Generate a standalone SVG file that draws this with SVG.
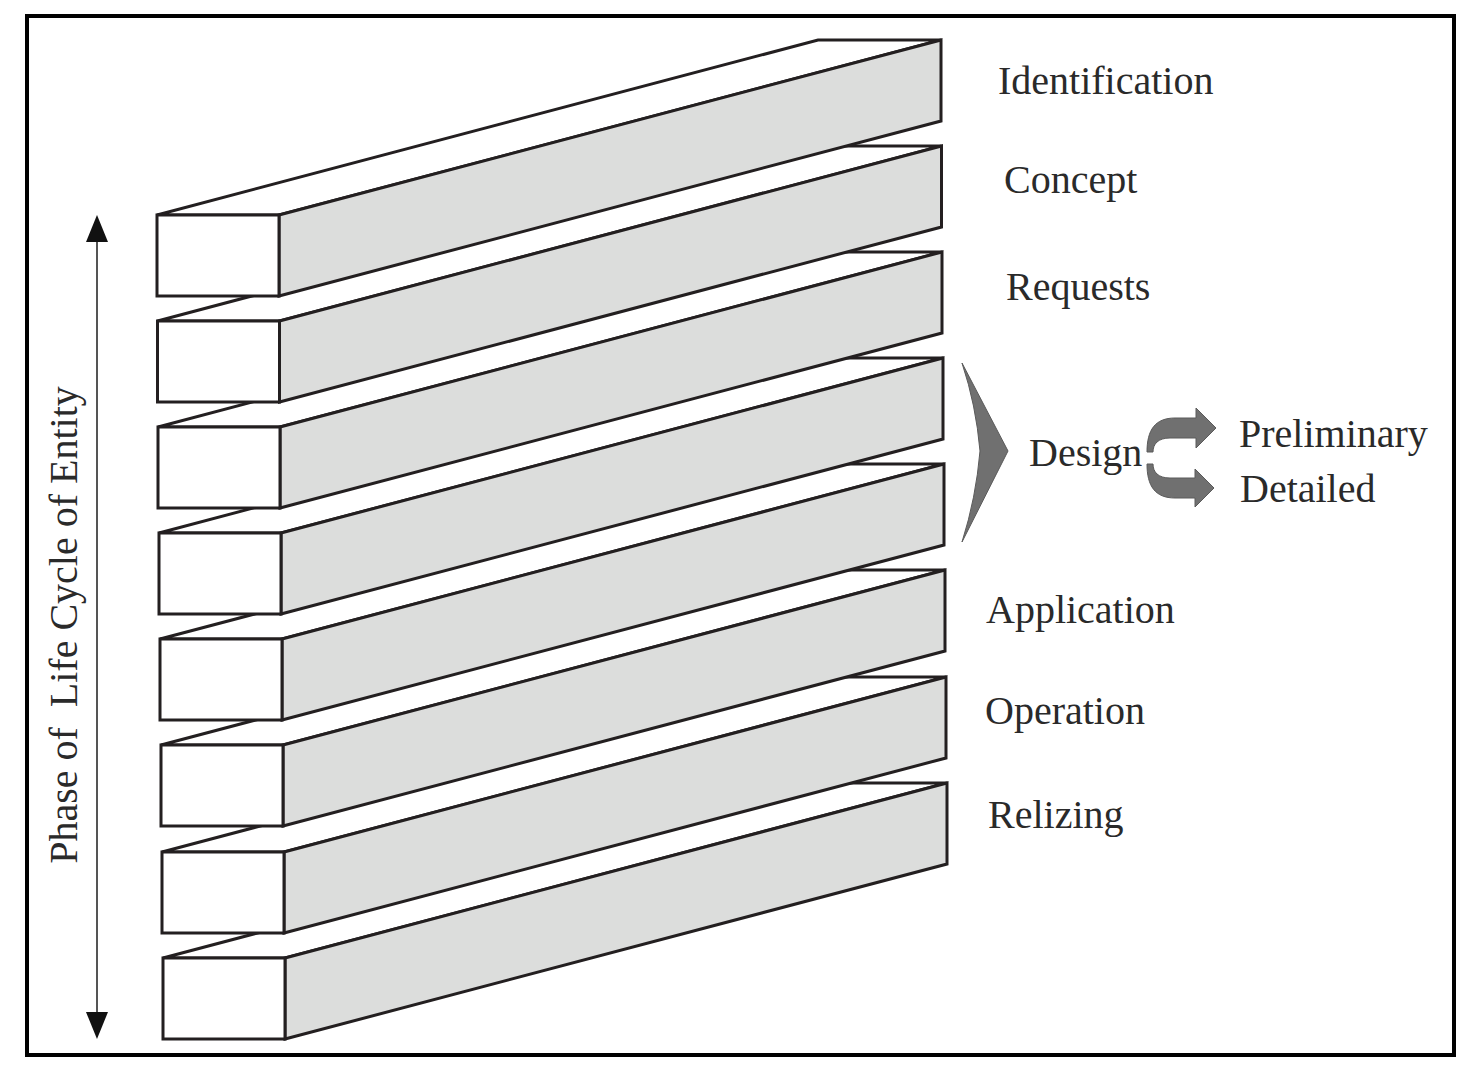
<svg xmlns="http://www.w3.org/2000/svg" width="1462" height="1065" viewBox="0 0 1462 1065">
<style>
.face{stroke:#231f20;stroke-width:3;stroke-linejoin:miter}
.front{fill:#ffffff}
.top{fill:#ffffff}
.side{fill:#dcdddc}
.lbl{font-family:"Liberation Serif","Times New Roman",serif;font-size:40px;fill:#2a2a2a}
.gray{fill:#707070;stroke:#5a5a5a;stroke-width:1}
</style>
<defs>
<g id="barShape">
<polygon class="face top" points="0,0 661,-175 784,-175 122,0"/>
<polygon class="face side" points="122,0 784,-175 784,-94 122,81"/>
<rect class="face front" x="0" y="0" width="122" height="81"/>
</g>
</defs>
<rect x="0" y="0" width="1462" height="1065" fill="#ffffff"/>
<rect x="27" y="16" width="1427" height="1039" fill="none" stroke="#000" stroke-width="4"/>

<g id="bar-8"><use href="#barShape" transform="translate(163,958)"/></g>
<g id="bar-7"><use href="#barShape" transform="translate(162,852)"/></g>
<g id="bar-6"><use href="#barShape" transform="translate(161,745)"/></g>
<g id="bar-5"><use href="#barShape" transform="translate(160,639)"/></g>
<g id="bar-4"><use href="#barShape" transform="translate(159,533)"/></g>
<g id="bar-3"><use href="#barShape" transform="translate(158,427)"/></g>
<g id="bar-2"><use href="#barShape" transform="translate(157.5,321)"/></g>
<g id="bar-1"><use href="#barShape" transform="translate(157,215)"/></g>

<g id="connectors">
<line x1="97" y1="240" x2="97" y2="1013" stroke="#555" stroke-width="2"/>
<polygon points="97,215 86,242 108,242" fill="#111"/>
<polygon points="97,1039 86,1012 108,1012" fill="#111"/>
<path id="chevron" class="gray" d="M962,363 L1008,451 L962,542 Q976,498 980,451 Q976,405 962,363 Z"/>
<path id="arrow-up" class="gray" d="M1147,452 C1147,430 1155,418 1175,418 L1196,418 L1196,408 L1216,428 L1196,448 L1196,438 L1170,438 C1158,438 1153,444 1153,452 Z"/>
<path id="arrow-down" class="gray" d="M1147,464 C1147,486 1155,498 1175,498 L1195,498 L1195,507 L1214,488 L1195,469 L1195,478 L1170,478 C1158,478 1153,472 1153,464 Z"/>
</g>

<g id="axis-label">
<text class="lbl" transform="translate(77,625) rotate(-90)" text-anchor="middle" xml:space="preserve">Phase of  Life Cycle of Entity</text>
</g>
<g id="labels">
<text class="lbl" x="998" y="94">Identification</text>
<text class="lbl" x="1004" y="193">Concept</text>
<text class="lbl" x="1006" y="300">Requests</text>
<text class="lbl" x="1029" y="466">Design</text>
<text class="lbl" x="1239" y="447">Preliminary</text>
<text class="lbl" x="1240" y="502">Detailed</text>
<text class="lbl" x="986" y="623">Application</text>
<text class="lbl" x="985" y="724">Operation</text>
<text class="lbl" x="988" y="828">Relizing</text>
</g>
</svg>
